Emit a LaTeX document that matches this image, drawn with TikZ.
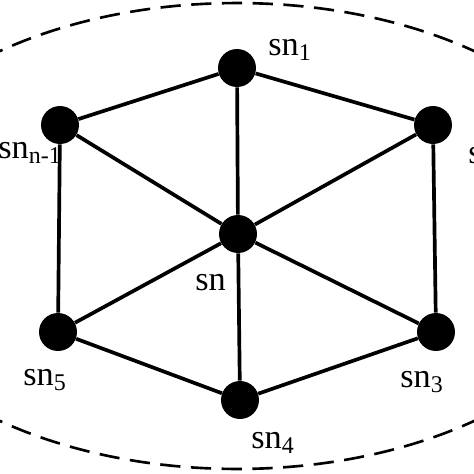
\documentclass[tikz,border=0pt]{standalone}
\usepackage{fontspec}
\setmainfont{Liberation Serif}
\usetikzlibrary{positioning}

\begin{document}
\begin{tikzpicture}[x=0.02cm,y=-0.02cm,
  sensor/.style={circle,fill=black,minimum size=0.76cm,inner sep=0pt},
  link/.style={line width=2.1pt},
  lbl/.style={font=\fontsize{19.5}{22}\selectfont,inner sep=0pt,anchor=base west}
  ]
  \useasboundingbox (0,0) rectangle (474,474);
  \clip (0,0) rectangle (474,474);

  % cluster boundary
  \draw [line width=1.5pt,dash pattern=on 11.5pt off 6pt] (237,236) ellipse [x radius=7.8cm, y radius=4.66cm];

  % sensor nodes
  \node [sensor] at (238,234) (sn) {};
  \node [sensor] at (237,68) (sn1) {};
  \node [sensor] at (433,125) (sn2) {};
  \node [sensor] at (436,332) (sn3) {};
  \node [sensor] at (240,400) (sn4) {};
  \node [sensor] at (58,332) (sn5) {};
  \node [sensor] at (60,125) (snn) {};

  % links
  \foreach \n in {sn1,sn2,sn3,sn4,sn5,snn}
    \draw [link] (sn) -- (\n);
  \draw [link] (sn1) -- (sn2) -- (sn3) -- (sn4) -- (sn5) -- (snn) -- (sn1);

  % labels
  \node [lbl] at (268,55) (sn1_lbl) {sn\textsubscript{1}};
  \node [lbl] at (468,163) (sn2_lbl) {sn\textsubscript{2}};
  \node [lbl] at (400,387) (sn3_lbl) {sn\textsubscript{3}};
  \node [lbl] at (251,448) (sn4_lbl) {sn\textsubscript{4}};
  \node [lbl] at (23,385) (sn5_lbl) {sn\textsubscript{5}};
  \node [lbl] at (-2,158) (snn_lbl) {sn\textsubscript{n-1}};
  \node [lbl] at (195,290) (sn_lbl) {sn};

\end{tikzpicture}
\end{document}
